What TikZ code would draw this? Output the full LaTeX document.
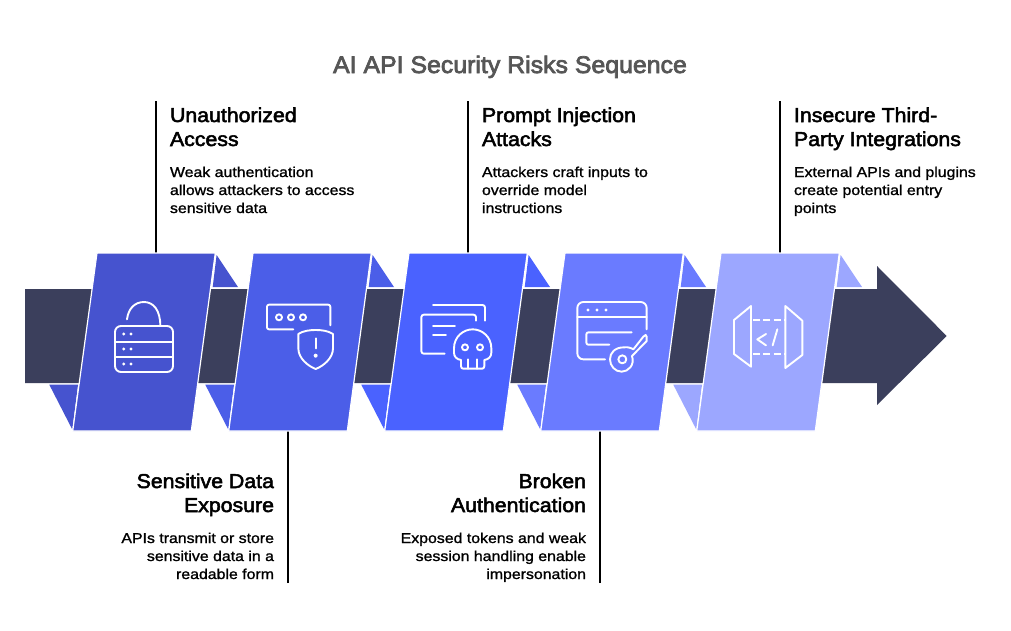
\documentclass[tikz,border=0pt]{standalone}
\usepackage{fontspec}
\setmainfont{Liberation Sans}
\newfontfamily\headfont[FakeBold=2.6,FakeStretch=1.065]{Liberation Sans}
\newfontfamily\bodyfont[FakeBold=1.2,FakeStretch=1.11]{Liberation Sans}
\newfontfamily\titlefont[FakeBold=3,FakeStretch=1.036]{Liberation Sans}
\usetikzlibrary{positioning}
\definecolor{darkbar}{HTML}{3B3F5C}
\definecolor{pa}{HTML}{4653CF}
\definecolor{pb}{HTML}{4B5EE8}
\definecolor{pc}{HTML}{4A62FF}
\definecolor{pd}{HTML}{6A7BFF}
\definecolor{pe}{HTML}{9CA7FF}
\definecolor{titlegray}{HTML}{565656}
\tikzset{
  panelbox/.style={minimum width=142.6pt,minimum height=178pt,inner sep=0pt,outer sep=0pt},
  leader/.style={draw=black,line width=2pt},
  icon/.style={draw=white,line width=1.9pt,fill=none,line cap=round,line join=round},
  icondot/.style={fill=white,draw=none},
  headtext/.style={font=\headfont\fontsize{20}{24}\selectfont,text=black,inner sep=0pt,outer sep=0pt},
  bodytext/.style={font=\bodyfont\fontsize{14.3}{18}\selectfont,text=black,inner sep=0pt,outer sep=0pt},
  titletext/.style={font=\titlefont\fontsize{24}{30}\selectfont,text=titlegray,inner sep=0pt,outer sep=0pt},
  zoomgrid/.style={x=0.33333pt,y=-0.33333pt,shift={(#1)}},
}
\newcommand{\panelshape}[2]{%
  % #1 left top x, #2 colour
  \fill[#2] ({#1+119.6},255) -- ({#1+141},287) -- ({#1+115.7},287) -- cycle;
  \fill[#2] ({#1-47.7},384.7) -- ({#1-19},384.7) -- ({#1-24.7},429.5) -- cycle;
  \path[fill=#2,draw=white,line width=1.2pt] (#1,253) -- ({#1+118.3},253) -- ({#1+94.3},431) -- ({#1-24.3},431) -- cycle;
}
\begin{document}
\begin{tikzpicture}[x=1pt,y=-1pt]
\useasboundingbox (0,0) rectangle (1011,630);
\fill[white] (0,0) rectangle (1011,630);
\node[titletext,anchor=base] (title) at (510,73) {AI API Security Risks Sequence};
% main arrow
\fill[darkbar] (25,289) -- (877,289) -- (877,266) -- (946.7,336) -- (877,405) -- (877,383) -- (25,383) -- cycle;
% leader end points
\coordinate (la) at (156,101);
\coordinate (lb) at (288,583);
\coordinate (lc) at (468,101);
\coordinate (ld) at (600,583);
\coordinate (le) at (780,101);
% panel anchors
\node[panelbox] (p1) at (144,342) {};
\node[panelbox] (p2) at (300,342) {};
\node[panelbox] (p3) at (456,342) {};
\node[panelbox] (p4) at (612,342) {};
\node[panelbox] (p5) at (768,342) {};
\draw[leader] (la) -- (p1.north -| la);
\draw[leader] (lc) -- (p3.north -| lc);
\draw[leader] (le) -- (p5.north -| le);
\draw[leader] (lb) -- (p2.south -| lb);
\draw[leader] (ld) -- (p4.south -| ld);
\panelshape{97}{pa}
\panelshape{253}{pb}
\panelshape{409}{pc}
\panelshape{565}{pd}
\panelshape{721}{pe}
% lock icon
\begin{scope}[zoomgrid={20pt,-240pt}]
\draw[icon,rounded corners=6pt] (285,258) rectangle (459,396);
\draw[icon] (285,305) -- (459,305) (285,350) -- (459,350);
\draw[icon] (321,238) .. controls (325,205) and (345,186) .. (372,186) .. controls (400,186) and (421,210) .. (421,258);
\foreach \yy in {282,327,372}{\fill[icondot] (311,\yy) circle (1.6pt) (333,\yy) circle (1.6pt);}
% shield icon
\draw[icon,rounded corners=2pt] (820,268) -- (741,268) -- (741,194) -- (931,194) -- (931,256);
\foreach \xx in {777,813,849}{\draw[icon] (\xx,232) circle (3pt);}
\draw[icon] (835,282) .. controls (850,272) and (870,270) .. (887,270) .. controls (904,270) and (924,272) .. (939,282) -- (939,325) .. controls (939,355) and (910,378) .. (887,387) .. controls (864,378) and (835,355) .. (835,325) -- cycle;
\draw[icon] (887,295) -- (887,325);
\fill[icondot] (887,347) circle (2pt);
\end{scope}
% skull icon
\begin{scope}[zoomgrid={350pt,-240pt}]
\draw[icon,rounded corners=2.5pt] (249,195) -- (405,195) -- (405,242);
\draw[icon,rounded corners=2.5pt] (378,242) -- (378,224) -- (214,224) -- (214,341) -- (284,341);
\draw[icon] (249,259) -- (315,259) (249,286) -- (288,286);
\draw[icon] (333,360) .. controls (320,358) and (312,350) .. (312,338) -- (312,325) .. controls (312,290) and (340,268) .. (368,268) .. controls (396,268) and (424,290) .. (424,325) -- (424,338) .. controls (424,350) and (416,358) .. (403,360) -- (403,378) .. controls (403,384) and (400,386) .. (396,386) -- (340,386) .. controls (336,386) and (333,384) .. (333,378) -- cycle;
\draw[icon] (355,358) -- (355,386) (381,358) -- (381,386);
\draw[icon] (345,322) circle (3pt) (390,322) circle (3pt);
% window key icon
\draw[icon,rounded corners=6pt] (890,268) -- (890,186) -- (682,186) -- (682,358) -- (765,358);
\draw[icon] (682,232) -- (890,232);
\foreach \xx in {714,741,768}{\fill[icondot] (\xx,210) circle (1.7pt);}
\draw[icon,rounded corners=2pt] (845,277) -- (709,277) -- (709,314) -- (778,314);
\draw[icon] (822,322) .. controls (835,320) and (845,325) .. (850,328) -- (880,290) -- (887,285) -- (890,290) -- (890,303) -- (846,348) .. controls (855,375) and (835,395) .. (815,395) .. controls (795,395) and (780,378) .. (780,358) .. controls (780,338) and (795,322) .. (822,322) -- cycle;
\draw[icon] (817,358) circle (4pt);
\end{scope}
% API icon
\begin{scope}[zoomgrid={660pt,-240pt}]
\draw[icon] (273,198) -- (273,380) -- (222,342) -- (222,240) -- cycle;
\draw[icon] (376,198) -- (427,242) -- (427,345) -- (376,384) -- cycle;
\draw[icon,line cap=butt,dash pattern=on 7pt off 3.3pt] (279,239) -- (376,239) (279,342) -- (376,342);
\draw[icon] (318,282) -- (292,298) -- (318,316);
\draw[icon] (352,268) -- (338,316);
\end{scope}
% texts
\node[headtext,anchor=base west] (ha1) at (170,122) {Unauthorized};
\node[headtext,anchor=base west] (ha2) at (170,146) {Access};
\node[bodytext,anchor=base west] (ba1) at (170,177) {Weak authentication};
\node[bodytext,anchor=base west] (ba2) at (170,195) {allows attackers to access};
\node[bodytext,anchor=base west] (ba3) at (170,213) {sensitive data};
\node[headtext,anchor=base west] (hc1) at (482,122) {Prompt Injection};
\node[headtext,anchor=base west] (hc2) at (482,146) {Attacks};
\node[bodytext,anchor=base west] (bc1) at (482,177) {Attackers craft inputs to};
\node[bodytext,anchor=base west] (bc2) at (482,195) {override model};
\node[bodytext,anchor=base west] (bc3) at (482,213) {instructions};
\node[headtext,anchor=base west] (he1) at (794,122) {Insecure Third-};
\node[headtext,anchor=base west] (he2) at (794,146) {Party Integrations};
\node[bodytext,anchor=base west] (be1) at (794,177) {External APIs and plugins};
\node[bodytext,anchor=base west] (be2) at (794,195) {create potential entry};
\node[bodytext,anchor=base west] (be3) at (794,213) {points};
\node[headtext,anchor=base east] (hb1) at (274,488) {Sensitive Data};
\node[headtext,anchor=base east] (hb2) at (274,512) {Exposure};
\node[bodytext,anchor=base east] (bb1) at (274,543) {APIs transmit or store};
\node[bodytext,anchor=base east] (bb2) at (274,561) {sensitive data in a};
\node[bodytext,anchor=base east] (bb3) at (274,579) {readable form};
\node[headtext,anchor=base east] (hd1) at (586,488) {Broken};
\node[headtext,anchor=base east] (hd2) at (586,512) {Authentication};
\node[bodytext,anchor=base east] (bd1) at (586,543) {Exposed tokens and weak};
\node[bodytext,anchor=base east] (bd2) at (586,561) {session handling enable};
\node[bodytext,anchor=base east] (bd3) at (586,579) {impersonation};
\end{tikzpicture}
\end{document}
